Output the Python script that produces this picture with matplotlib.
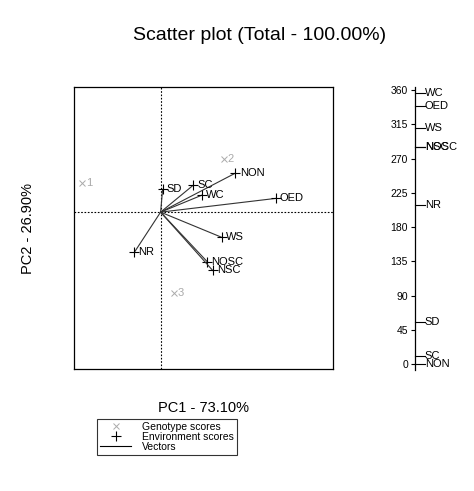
import matplotlib.pyplot as plt
from matplotlib.lines import Line2D

plt.rcParams['font.family'] = ['Liberation Sans', 'DejaVu Sans']

# environment scores (PC1, PC2)
env_names = ['NON', 'SC', 'WC', 'SD', 'OED', 'WS', 'NOSC', 'NSC', 'NR']
env_pc1 = [0.747, 0.327, 0.413, 0.02, 1.147, 0.613, 0.467, 0.52, -0.263]
env_pc2 = [0.39, 0.27, 0.17, 0.227, 0.137, -0.253, -0.497, -0.583, -0.403]

# genotype scores
gen_names = ['1', '2', '3']
gen_pc1 = [-0.78, 0.633, 0.13]
gen_pc2 = [0.293, 0.533, -0.81]

# angles of environment vectors (right scale)
ang_names = ['WC', 'OED', 'WS', 'NSC', 'NOSC', 'NR', 'SD', 'SC', 'NON']
ang_vals = [355.6, 339.4, 310.5, 284.8, 284.8, 209, 55.9, 11.3, 0]
ang_ticks = [0, 45, 90, 135, 180, 225, 270, 315, 360]

W, H = 474, 491
fig = plt.figure(figsize=(W / 100, H / 100), dpi=100)

ax = fig.add_axes([74 / W, 1 - 369 / H, 259 / W, 282 / H])
ax.set_xlim(-0.864, 1.72)
ax.set_ylim(-1.567, 1.25)
ax.set_xticks([])
ax.set_yticks([])
for s in ax.spines.values():
    s.set_linewidth(0.9)
ax.axhline(0, color='black', ls=(0, (1.5, 1.5)), lw=0.8)
ax.axvline(0, color='black', ls=(0, (1.5, 1.5)), lw=0.8)

for name, x, y in zip(env_names, env_pc1, env_pc2):
    ax.plot([0, x], [0, y], color='#333333', lw=0.8)
    ax.plot(x, y, marker='+', color='black', ms=7, mew=0.8)
    ax.annotate(name, (x, y), xytext=(3, 0), textcoords='offset points',
                va='center', ha='left', fontsize=8)

for name, x, y in zip(gen_names, gen_pc1, gen_pc2):
    ax.plot(x, y, marker='x', color='#aaaaaa', ms=4, mew=0.7)
    ax.annotate(name, (x, y), xytext=(2.5, 0), textcoords='offset points',
                va='center', ha='left', fontsize=8, color='#aaaaaa')

fig.text(260 / W, 1 - 35 / H, 'Scatter plot (Total - 100.00%)', ha='center', va='center', fontsize=14)
fig.text(204 / W, 1 - 408 / H, 'PC1 - 73.10%', ha='center', va='center', fontsize=10.5)
fig.text(28 / W, 1 - 228 / H, 'PC2 - 26.90%', ha='center', va='center', fontsize=10.5, rotation=90)

# legend
handles = [
    Line2D([], [], marker='x', color='#aaaaaa', ls='none', ms=4, mew=0.7),
    Line2D([], [], marker='+', color='black', ls='none', ms=7, mew=0.8),
    Line2D([], [], color='black', lw=0.8),
]
leg = fig.legend(handles, ['Genotype scores', 'Environment scores', 'Vectors'],
                 loc='upper left', bbox_to_anchor=(97 / W, 1 - 419 / H),
                 fontsize=7.5, frameon=True, fancybox=False, edgecolor='black',
                 handlelength=3, labelspacing=0.0, borderpad=0.3, handletextpad=1.0,
                 borderaxespad=0)
leg.get_frame().set_linewidth(0.8)

# angle scale
ax2 = fig.add_axes([415 / W, 1 - 370 / H, 30 / W, 283 / H])
ax2.set_ylim(-7.5, 363.9)
ax2.set_xlim(0, 1)
for k in ['top', 'right', 'bottom']:
    ax2.spines[k].set_visible(False)
ax2.spines['left'].set_linewidth(0.9)
ax2.patch.set_visible(False)
ax2.set_xticks([])
ax2.set_yticks(ang_ticks)
ax2.tick_params(axis='y', labelsize=7.5, length=3, width=0.8, pad=2)
for name, v in zip(ang_names, ang_vals):
    ax2.plot([0, 0.33], [v, v], color='black', lw=0.8, clip_on=False)
    ax2.text(0.33, v, name, va='center', ha='left', fontsize=8)

fig.savefig('out.png', dpi=100)
